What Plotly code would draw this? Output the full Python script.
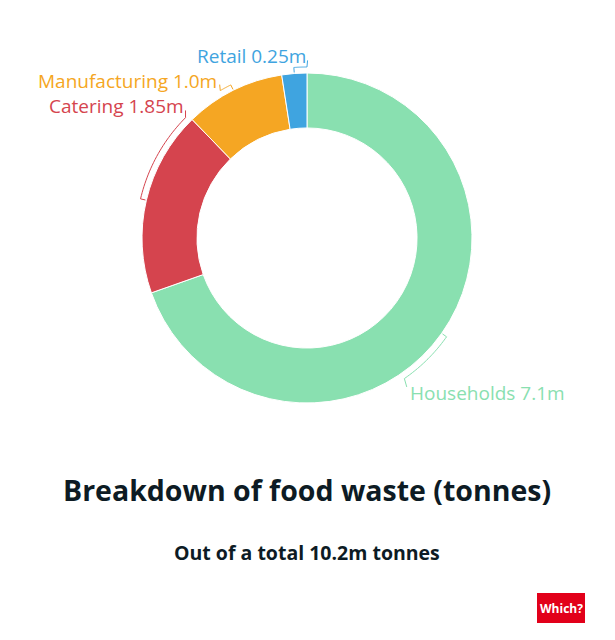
import numpy as np
import plotly.graph_objects as go

# ---- data ----
categories = ["Households", "Catering", "Manufacturing", "Retail"]
values = [7.1, 1.85, 1.0, 0.25]
value_labels = ["7.1m", "1.85m", "1.0m", "0.25m"]
colors = ["#89E0B0", "#D5444E", "#F5A623", "#3FA4E0"]
title_text = "Breakdown of food waste (tonnes)"
subtitle_text = "Out of a total 10.2m tonnes"

# ---- style / layout ----
W, H = 615, 640
CX, CY, R = 307, 238, 165
# per label: bracket span (deg from slice mid), label offset from bracket end (px), anchor side
bracket_span = [20, 31.5, -4, 4.4]
label_offset = [(4, 14), (0, -12), (-1, -10), (1, -11)]
label_anchor = ["left", "right", "right", "right"]


def px(x, y):
    return x / W, 1 - y / H


def polar(angle_deg, r):
    a = np.radians(angle_deg)
    return CX + r * np.sin(a), CY - r * np.cos(a)


fig = go.Figure(
    go.Pie(
        labels=categories,
        values=values,
        sort=False,
        direction="clockwise",
        rotation=0,
        hole=0.667,
        marker=dict(colors=colors, line=dict(color="white", width=1)),
        textinfo="none",
        hoverinfo="label+value",
        showlegend=False,
        domain=dict(x=[(CX - R) / W, (CX + R) / W], y=[1 - (CY + R) / H, 1 - (CY - R) / H]),
    )
)

total = sum(values)
cum = np.cumsum([0] + values)
shapes = []
annotations = []
for i, cat in enumerate(categories):
    start = cum[i] / total * 360
    end = cum[i + 1] / total * 360
    mid = (start + end) / 2
    a_to = mid + bracket_span[i]
    pts = [polar(mid, R + 1)]
    for a in np.linspace(mid, a_to, 30):
        pts.append(polar(a, R + 6))
    ex, ey = pts[-1]
    dx, dy = label_offset[i]
    pts.append((ex + dx * 0.6, ey + dy * 0.6))
    path = "M " + " L ".join(f"{px(x, y)[0]:.5f},{px(x, y)[1]:.5f}" for x, y in pts)
    shapes.append(dict(type="path", path=path, xref="paper", yref="paper",
                       line=dict(color=colors[i], width=1)))
    lx, ly = px(ex + dx, ey + dy)
    annotations.append(dict(x=lx, y=ly, xref="paper", yref="paper", xanchor=label_anchor[i],
                            yanchor="middle", showarrow=False,
                            text=f"{cat} {value_labels[i]}",
                            font=dict(family="Open Sans", size=19, color=colors[i])))

tx, ty = px(307, 490)
annotations.append(dict(x=tx, y=ty, xref="paper", yref="paper", xanchor="center", yanchor="middle",
                        showarrow=False, text=f"<b>{title_text}</b>",
                        font=dict(family="Open Sans", size=28.5, color="#0D1B24")))
sx, sy = px(307, 552)
annotations.append(dict(x=sx, y=sy, xref="paper", yref="paper", xanchor="center", yanchor="middle",
                        showarrow=False, text=f"<b>{subtitle_text}</b>",
                        font=dict(family="Open Sans", size=19.5, color="#0D1B24")))

# logo
x0, y1 = px(537, 593)
x1, y0 = px(585, 623)
shapes.append(dict(type="rect", xref="paper", yref="paper", x0=x0, x1=x1, y0=y0, y1=y1,
                   fillcolor="#E2001A", line=dict(width=0)))
annotations.append(dict(x=(x0 + x1) / 2, y=(y0 + y1) / 2, xref="paper", yref="paper",
                        xanchor="center", yanchor="middle", showarrow=False,
                        text="<b>Which?</b>", font=dict(family="Open Sans", size=12, color="white")))

fig.update_layout(
    width=W, height=H,
    margin=dict(l=0, r=0, t=0, b=0),
    paper_bgcolor="white", plot_bgcolor="white",
    shapes=shapes, annotations=annotations,
)

fig.write_html("out.html")
